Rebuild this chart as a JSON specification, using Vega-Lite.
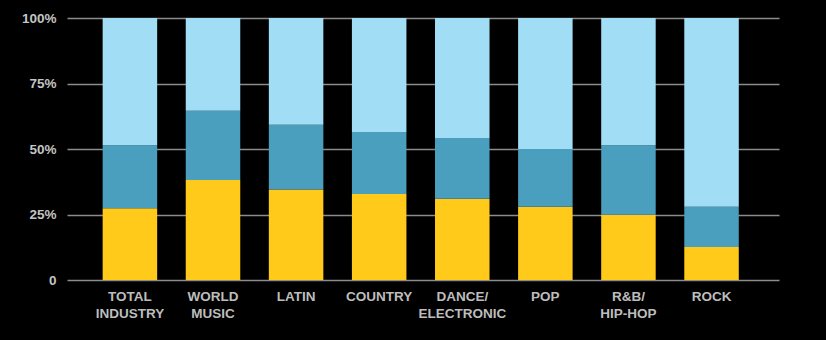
{
  "$schema": "https://vega.github.io/schema/vega-lite/v6.json",
  "autosize": {"type": "none"},
  "width": 712,
  "height": 262,
  "padding": {"left": 67, "top": 18, "right": 47, "bottom": 60},
  "background": "#000000",
  "config": {
    "view": {"stroke": null},
    "font": "Liberation Sans"
  },
  "data": {
    "values": [
      {"genre": "TOTAL INDUSTRY", "series": "1", "order": 1, "share": 27.4},
      {"genre": "TOTAL INDUSTRY", "series": "2", "order": 2, "share": 24.0},
      {"genre": "TOTAL INDUSTRY", "series": "3", "order": 3, "share": 48.6},
      {"genre": "WORLD MUSIC", "series": "1", "order": 1, "share": 38.2},
      {"genre": "WORLD MUSIC", "series": "2", "order": 2, "share": 26.4},
      {"genre": "WORLD MUSIC", "series": "3", "order": 3, "share": 35.4},
      {"genre": "LATIN", "series": "1", "order": 1, "share": 34.5},
      {"genre": "LATIN", "series": "2", "order": 2, "share": 24.8},
      {"genre": "LATIN", "series": "3", "order": 3, "share": 40.7},
      {"genre": "COUNTRY", "series": "1", "order": 1, "share": 32.8},
      {"genre": "COUNTRY", "series": "2", "order": 2, "share": 23.7},
      {"genre": "COUNTRY", "series": "3", "order": 3, "share": 43.5},
      {"genre": "DANCE/ELECTRONIC", "series": "1", "order": 1, "share": 31.0},
      {"genre": "DANCE/ELECTRONIC", "series": "2", "order": 2, "share": 23.2},
      {"genre": "DANCE/ELECTRONIC", "series": "3", "order": 3, "share": 45.8},
      {"genre": "POP", "series": "1", "order": 1, "share": 28.0},
      {"genre": "POP", "series": "2", "order": 2, "share": 22.0},
      {"genre": "POP", "series": "3", "order": 3, "share": 50.0},
      {"genre": "R&B/HIP-HOP", "series": "1", "order": 1, "share": 24.9},
      {"genre": "R&B/HIP-HOP", "series": "2", "order": 2, "share": 26.5},
      {"genre": "R&B/HIP-HOP", "series": "3", "order": 3, "share": 48.6},
      {"genre": "ROCK", "series": "1", "order": 1, "share": 12.6},
      {"genre": "ROCK", "series": "2", "order": 2, "share": 15.4},
      {"genre": "ROCK", "series": "3", "order": 3, "share": 72.0}
    ]
  },
  "mark": {"type": "bar"},
  "encoding": {
    "x": {
      "field": "genre",
      "type": "nominal",
      "sort": null,
      "scale": {"paddingInner": 0.344, "paddingOuter": 0.4566, "align": 0.47},
      "axis": {
        "title": null,
        "domain": false,
        "ticks": false,
        "labelAngle": 0,
        "labelColor": "#bdbdbd",
        "labelFont": "Liberation Sans",
        "labelFontWeight": "bold",
        "labelFontSize": 13.5,
        "labelPadding": 9,
        "labelLineHeight": 17,
        "labelBaseline": "top",
        "labelExpr": "datum.value == 'DANCE/ELECTRONIC' ? ['DANCE/', 'ELECTRONIC'] : datum.value == 'R&B/HIP-HOP' ? ['R&B/', 'HIP-HOP'] : split(datum.value, ' ')"
      }
    },
    "y": {
      "field": "share",
      "type": "quantitative",
      "stack": "normalize",
      "scale": {"domain": [0, 1], "nice": false},
      "axis": {
        "title": null,
        "domain": false,
        "ticks": false,
        "values": [0, 0.25, 0.5, 0.75, 1],
        "labelExpr": "datum.value == 0 ? '0' : format(datum.value, '.0%')",
        "labelColor": "#c4c4c4",
        "labelFont": "Liberation Sans",
        "labelFontWeight": "bold",
        "labelFontSize": 13.5,
        "labelPadding": 11,
        "grid": true,
        "gridColor": "#8c8c8c",
        "gridWidth": 1.5
      }
    },
    "color": {
      "field": "series",
      "type": "nominal",
      "scale": {"domain": ["1", "2", "3"], "range": ["#ffca1a", "#4a9fbf", "#a1def6"]},
      "legend": null
    },
    "order": {"field": "order", "type": "quantitative"}
  }
}
